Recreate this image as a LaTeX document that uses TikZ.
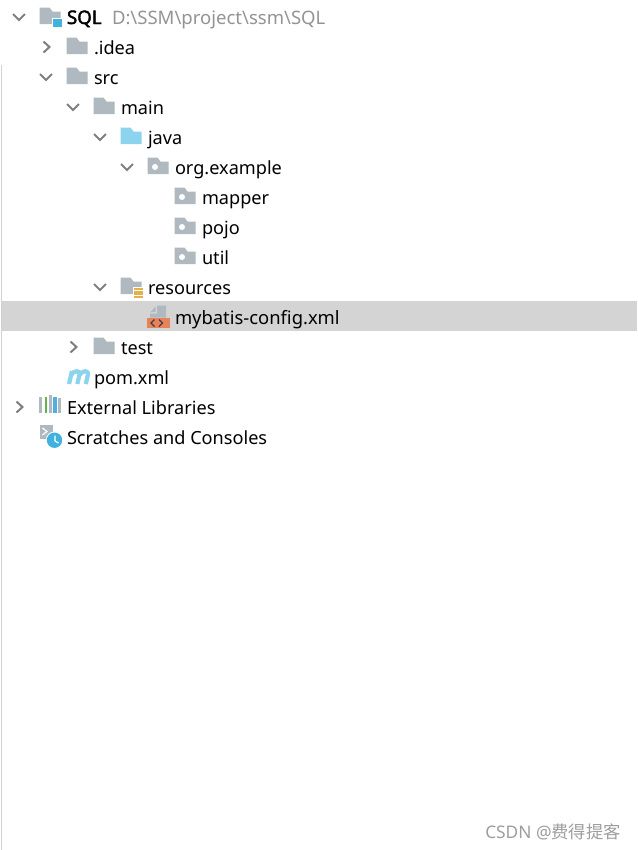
\documentclass[tikz,border=0pt]{standalone}
\usepackage{fontspec}
\setmainfont{Noto Sans}
\newfontfamily\cjk{Noto Sans CJK SC}
\newfontfamily\boldf[FakeBold=2.2]{Noto Sans}
\definecolor{folder}{HTML}{AFB9BF}
\definecolor{chev}{HTML}{7F7F7F}
\definecolor{skyb}{HTML}{8CD4EE}
\definecolor{blue2}{HTML}{3FB2E0}
\definecolor{sel}{HTML}{D4D4D4}
\definecolor{orng}{HTML}{E8825A}
\definecolor{yell}{HTML}{E3B04B}
\definecolor{libgreen}{HTML}{62B543}
\definecolor{libblue}{HTML}{4FB0DE}
\tikzset{
  x=0.75pt,y=-0.75pt,
  lbl/.style={anchor=base west,inner sep=0pt,outer sep=0pt,font=\fontsize{13.6pt}{16pt}\selectfont,text=black},
  chevl/.style={draw=chev,line width=1.5pt,fill=none},
}
\newcommand{\chevdown}[2]{\draw[chevl] (#1-6,#2-3) -- (#1,#2+3) -- (#1+6,#2-3);}
\newcommand{\chevright}[2]{\draw[chevl] (#1-3,#2-5.5) -- (#1+3,#2) -- (#1-3,#2+5.5);}
\newcommand{\folder}[3]{\fill[#3] (#1,#2-9.5) -- (#1+10,#2-9.5) -- (#1+13,#2-5.5) -- (#1+21,#2-5.5) -- (#1+21,#2+7) -- (#1,#2+7) -- cycle;}
\newcommand{\pkg}[2]{\folder{#1}{#2}{folder}\fill[white] (#1+7.5,#2) circle (3);}
\begin{document}
\begin{tikzpicture}
\useasboundingbox (0,0) rectangle (637,850);
\fill[white] (0,0) rectangle (637,850);
\fill[black!18] (1,65) rectangle (2,850);
\fill[sel] (2,301) rectangle (637,331);
% SQL
\chevdown{19}{17}
\folder{39.5}{17}{folder}
\fill[white] (52,18) rectangle (63,28);
\fill[blue2] (53,19) rectangle (62,27);
\node[lbl,font=\fontsize{14pt}{16pt}\boldf] (sql) at (67,24) {SQL};
\node[lbl,text=black!42,font=\fontsize{13.9pt}{16pt}\selectfont] (path) at (112,24) {D:\textbackslash SSM\textbackslash project\textbackslash ssm\textbackslash SQL};
% .idea
\chevright{46.5}{47}
\folder{66.5}{47}{folder}
\node[lbl] (idea) at (94,54) {.idea};
% src
\chevdown{46}{77}
\folder{66.5}{77}{folder}
\node[lbl] (src) at (94,84) {src};
% main
\chevdown{73}{107}
\folder{93.5}{107}{folder}
\node[lbl] (main) at (121,114) {main};
% java
\chevdown{100}{137}
\folder{120.5}{137}{skyb}
\node[lbl] (java) at (148,144) {java};
% org.example
\chevdown{127}{167}
\pkg{147.5}{167}
\node[lbl] (org) at (175,174) {org.example};
% packages
\pkg{174.5}{197}
\node[lbl] (mapper) at (202,204) {mapper};
\pkg{174.5}{227}
\node[lbl] (pojo) at (202,234) {pojo};
\pkg{174.5}{257}
\node[lbl] (util) at (202,264) {util};
% resources
\chevdown{100}{287}
\folder{120.5}{287}{folder}
\fill[white] (132.5,286.5) rectangle (144,299);
\foreach \yy in {288,290.7,293.4,296.1} \fill[yell] (134,\yy) rectangle (143,\yy+1.9);
\node[lbl] (resources) at (148,294) {resources};
% xml
\fill[folder] (157,305.5) -- (166,305.5) -- (166,317.5) -- (150,317.5) -- (150,313.5) -- (157,313.5) -- cycle;
\fill[folder] (155.5,306.5) -- (155.5,312) -- (150.5,312) -- cycle;
\fill[orng] (147.3,317.5) rectangle (170,328);
\draw[black!75,line width=0.9pt] (154.5,319.5) -- (151,323) -- (154.5,326.5) (159,319.5) -- (162.5,323) -- (159,326.5);
\node[lbl,font=\fontsize{13.8pt}{16pt}\selectfont] (xml) at (175,324) {mybatis-config.xml};
% test
\chevright{73.5}{347}
\folder{93.5}{347}{folder}
\node[lbl] (test) at (121,354) {test};
% pom
\draw[skyb,line width=3.2pt,line join=round] (69,384) -- (72,371) (71.5,374.5) .. controls (73.5,370.5) and (80.5,369.8) .. (79.5,374.5) -- (77.3,384) (80,374.5) .. controls (82,370.5) and (89,369.8) .. (88,374.5) -- (85.8,384);
\node[lbl] (pom) at (94,384) {pom.xml};
% external
\chevright{19.5}{407}
\fill[folder] (39.3,397) rectangle (42,413);
\fill[libgreen] (44.7,397) rectangle (47.3,413);
\fill[folder] (49,395) rectangle (51.6,413);
\fill[libblue] (53.4,397) rectangle (56.6,413);
\fill[folder] (58,398) rectangle (60.7,413);
\node[lbl] (ext) at (67,414) {External Libraries};
% scratches
\fill[folder] (39.5,425) rectangle (53,439);
\draw[white,line width=0.9pt] (42.5,428) -- (47,431.5) -- (42.5,435);
\fill[white] (54.5,440.2) circle (8.7);
\fill[blue2] (54.5,440.2) circle (7.7);
\draw[white,line width=0.9pt] (55,435.5) -- (55,441) -- (58.5,443);
\node[lbl] (scr) at (67,444) {Scratches and Consoles};
% watermark
\node[anchor=base west,inner sep=0pt,text=black!38,font=\fontsize{13pt}{15pt}\selectfont] (wm) at (485,838) {CSDN @{\cjk 费得提客}};
\end{tikzpicture}
\end{document}
